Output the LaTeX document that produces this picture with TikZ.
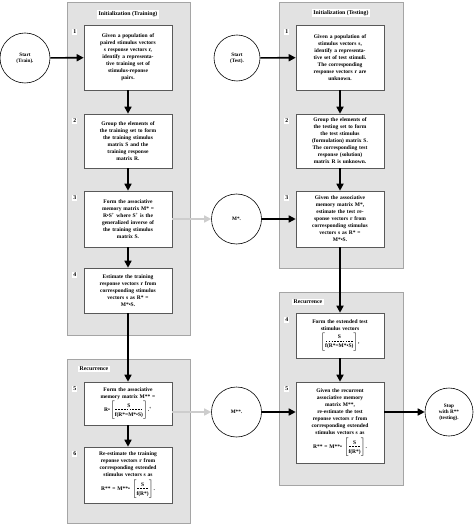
\documentclass[tikz,border=0pt]{standalone}
\usepackage{fontspec}
\setmainfont{Liberation Serif}
\usetikzlibrary{arrows.meta, positioning}
\definecolor{panelgray}{RGB}{226, 226, 226}
\definecolor{paneledge}{RGB}{165, 165, 165}
\definecolor{linkgray}{RGB}{205, 205, 205}
\newcommand{\dashfrac}[2]{$\left[\vcenter{\hbox{\setbox0\hbox{#2}%
  \vbox{\offinterlineskip\hbox to\wd0{\hfil#1\hfil}\kern2.2pt
  \hbox to\wd0{\xleaders\hbox{\kern0.5pt\rule{1.6pt}{0.4pt}\kern0.5pt}\hfill}\kern2.6pt
  \box0}}}\right]$}

\begin{document}
\begin{tikzpicture}[
    x=1pt, y=-1pt,
    panel/.style  = {fill=panelgray, draw=paneledge, line width=0.8pt},
    title/.style  = {fill=white, inner sep=1.5pt, font=\fontsize{5.8}{6.5}\selectfont\bfseries},
    box/.style    = {draw=black!65, fill=white, line width=0.6pt, minimum width=88pt,
                     text width=82pt, align=center, inner sep=1pt,
                     font=\fontsize{5.5}{7}\selectfont\bfseries},
    num/.style    = {fill=white, inner sep=1pt, font=\fontsize{5.8}{6}\selectfont\bfseries},
    state/.style  = {circle, draw, line width=0.6pt, minimum size=50pt, inner sep=0pt,
                     align=center, font=\fontsize{5.2}{6}\selectfont\bfseries},
    arrow/.style  = {-{Triangle[length=7pt, width=7pt]}, line width=1.6pt},
    faint/.style  = {arrow, color=linkgray},
  ]
  \useasboundingbox (0,0) rectangle (474,526);

  % grey panels
  \draw[panel] (67,2) rectangle (190,335);
  \draw[panel] (67,359) rectangle (190,523);
  \draw[panel] (279,2) rectangle (403,268);
  \draw[panel] (279,292) rectangle (403,485);
  \node[title] (traintitle) at (128,14.5) {Initialization (Training)};
  \node[title] (testtitle)  at (341,13)   {Initialization (Testing)};
  \node[title] (trainrec)   at (94,369)   {Recurrence};
  \node[title] (testrec)    at (308,302)  {Recurrence};

  % training column
  \node[box, minimum height=65pt] (L1) at (128,57.5) {Given a population of\\ paired stimulus vectors\\ s response vectors r,\\ identify a representa-\\ tive training set of\\ stimulus-reponse\\ pairs.};
  \node[box, minimum height=54pt] (L2) at (128,141) {Group the elements of\\ the training set to form\\ the training stimulus\\ matrix S and the\\ training response\\ matrix R.};
  \node[box, minimum height=56pt] (L3) at (128,219) {Form the associative\\ memory matrix M* =\\ R•S\textsuperscript{+} where S\textsuperscript{+} is the\\ generalized inverse of\\ the training stimulus\\ matrix S.};
  \node[box, minimum height=45pt] (L4) at (128,290.5) {Estimate the training\\ response vectors r from\\ corresponding stimulus\\ vectors s as R* =\\ M*•S.};
  \node[box, minimum height=43pt] (L5) at (128,403.5) {Form the associative\\ memory matrix M** =\\[1pt] R•\dashfrac{S}{f(R*=M*•S)}.\textsuperscript{+}};
  \node[box, minimum height=56pt] (L6) at (128,475) {Re-estimate the training\\ reponse vectors r from\\ corresponding extended\\ stimulus vectors s as\\[3pt] R** = M**•\ \dashfrac{S}{f(R*)}.};

  % testing column
  \node[box, minimum height=65pt] (R1) at (340,57.5) {Given a population of\\ stimulus vectors s,\\ identify a representa-\\ tive set of test stimuli.\\ The corresponding\\ response vectors r are\\ unknown.};
  \node[box, minimum height=54pt] (R2) at (340,141) {Group the elements of\\ the testing set to form\\ the test stimulus\\ (formulation) matrix S.\\ The corresponding test\\ response (solution)\\ matrix R is unknown.};
  \node[box, minimum height=56pt] (R3) at (340,219) {Given the associative\\ memory matrix M*,\\ estimate the test re-\\ sponse vectors r from\\ corresponding stimulus\\ vectors s as R* =\\ M*•S.};
  \node[box, minimum height=45pt] (R4) at (340,335.5) {Form the extended test\\ stimulus vectors\\[1pt] \dashfrac{S}{f(R*=M*•S)},};
  \node[box, minimum height=81pt] (R5) at (340,422.5) {Given the recurrent\\ associative memory\\ matrix M**,\\ re-estimate the test\\ reponse vectors r from\\ corresponding extended\\ stimulus vectors s as\\[3pt] R** = M**•\ \dashfrac{S}{f(R*)}.};

  % step numbers
  \foreach \b/\n in {L1/1, L2/2, L3/3, L4/4, L5/5, L6/6, R1/1, R2/2, R3/3, R4/4, R5/5}
    \node[num] (num\b) at ([xshift=-9pt, yshift=-7pt]\b.north west) {\n};

  % start, stop and memory states
  \node[state] (trainstart) at (25,58)    {Start\\ (Train).};
  \node[state, minimum size=46pt] (teststart) at (237,58) {Start\\ (Test).};
  \node[state] (mstar)      at (236.5,219) {M*.};
  \node[state] (mstarstar)  at (236.5,412) {M**.};
  \node[state, minimum size=48pt] (stop) at (449,412) {Stop\\ with R**\\ (testing).};

  % connectors
  \draw[arrow] (trainstart) -- (L1);
  \draw[arrow] (teststart) -- (R1);
  \draw[arrow] (L1) -- (L2);
  \draw[arrow] (L2) -- (L3);
  \draw[arrow] (L3) -- (L4);
  \draw[arrow] (L4) -- (L5);
  \draw[arrow] (L5) -- (L6);
  \draw[arrow] (R1) -- (R2);
  \draw[arrow] (R2) -- (R3);
  \draw[arrow] (R3) -- (R4);
  \draw[arrow] (R4) -- (R5);
  \draw[faint] (L3) -- (mstar);
  \draw[arrow] (mstar) -- (R3);
  \draw[faint] (L5.east |- mstarstar) -- (mstarstar);
  \draw[arrow] (mstarstar) -- (mstarstar -| R5.west);
  \draw[arrow] (R5.east |- stop) -- (stop);
\end{tikzpicture}
\end{document}
